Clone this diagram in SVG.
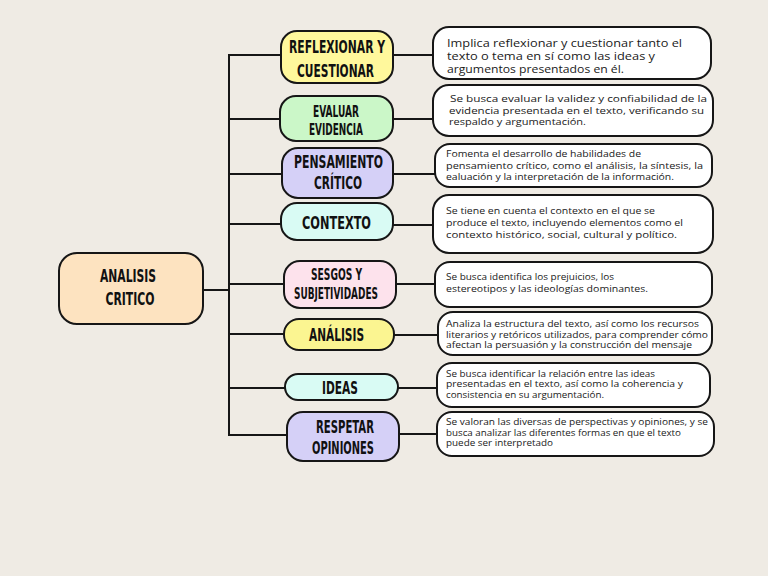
<svg xmlns="http://www.w3.org/2000/svg" width="768" height="576" viewBox="0 0 768 576">
<style>
.bg{fill:#efebe4}
.node{stroke:#161616;stroke-width:2}
.box{fill:#ffffff;stroke:#161616;stroke-width:2}
.lbl{font-family:"DejaVu Sans Condensed","DejaVu Sans",sans-serif;font-weight:bold;fill:#111;text-anchor:middle}
.body{font-family:"Open Sans","Noto Sans",sans-serif;fill:#1a1a1a}
.con{stroke:#161616;stroke-width:2;fill:none}
</style>
<rect class="bg" x="0" y="0" width="768" height="576"/>
<g id="connectors">
<path class="con" d="M203 290H229M229 54V436"/>
<path class="con" d="M229 55H281M229 119H280M229 174H282M229 224H281M229 284H284M229 334H284M229 388H285M229 435H287"/>
<path class="con" d="M393 55H433M393 119H433M393 174H435M393 225H433M396 284H435M394 335H438M398 388H437M399 434H437"/>
</g>
<g id="root">
<rect class="node" x="59" y="253" width="144" height="71" rx="18" fill="#fde3c0"/>
<text class="lbl" x="128" y="282" font-size="18" textLength="56" lengthAdjust="spacingAndGlyphs">ANALISIS</text>
<text class="lbl" x="130" y="305" font-size="18" textLength="49" lengthAdjust="spacingAndGlyphs">CRITICO</text>
</g>
<g id="n1">
<rect class="node" x="281" y="31" width="112" height="52" rx="16" fill="#fff89c"/>
<text class="lbl" x="337" y="53" font-size="17" textLength="96" lengthAdjust="spacingAndGlyphs">REFLEXIONAR Y</text>
<text class="lbl" x="335.5" y="77" font-size="17" textLength="77" lengthAdjust="spacingAndGlyphs">CUESTIONAR</text>
</g>
<g id="n2">
<rect class="node" x="280" y="96" width="113" height="45" rx="16" fill="#cbf7c8"/>
<text class="lbl" x="336" y="117" font-size="15" textLength="46" lengthAdjust="spacingAndGlyphs">EVALUAR</text>
<text class="lbl" x="336" y="135" font-size="15" textLength="54" lengthAdjust="spacingAndGlyphs">EVIDENCIA</text>
</g>
<g id="n3">
<rect class="node" x="282" y="148" width="111" height="50" rx="16" fill="#d5d0f7"/>
<text class="lbl" x="338.5" y="168" font-size="18" textLength="89" lengthAdjust="spacingAndGlyphs">PENSAMIENTO</text>
<text class="lbl" x="338" y="189" font-size="18" textLength="48" lengthAdjust="spacingAndGlyphs">CRÍTICO</text>
</g>
<g id="n4">
<rect class="node" x="281" y="203" width="112" height="37" rx="16" fill="#d9fbf4"/>
<text class="lbl" x="336.5" y="229" font-size="18" textLength="69" lengthAdjust="spacingAndGlyphs">CONTEXTO</text>
</g>
<g id="n5">
<rect class="node" x="284" y="261" width="112" height="47" rx="16" fill="#fde2ec"/>
<text class="lbl" x="336.5" y="280" font-size="15" textLength="51" lengthAdjust="spacingAndGlyphs">SESGOS Y</text>
<text class="lbl" x="336" y="299" font-size="15" textLength="84" lengthAdjust="spacingAndGlyphs">SUBJETIVIDADES</text>
</g>
<g id="n6">
<rect class="node" x="284" y="319" width="110" height="31" rx="15" fill="#fbf591"/>
<text class="lbl" x="336.5" y="341" font-size="18" textLength="55" lengthAdjust="spacingAndGlyphs">ANÁLISIS</text>
</g>
<g id="n7">
<rect class="node" x="285" y="374" width="113" height="26" rx="13" fill="#d9fbf4"/>
<text class="lbl" x="340" y="394" font-size="17" textLength="36" lengthAdjust="spacingAndGlyphs">IDEAS</text>
</g>
<g id="n8">
<rect class="node" x="287" y="412" width="112" height="49" rx="16" fill="#d5d0f7"/>
<text class="lbl" x="345" y="433" font-size="18" textLength="58" lengthAdjust="spacingAndGlyphs">RESPETAR</text>
<text class="lbl" x="343" y="454" font-size="18" textLength="62" lengthAdjust="spacingAndGlyphs">OPINIONES</text>
</g>
<g id="d1">
<rect class="box" x="433" y="27" width="278" height="52" rx="16"/>
<text class="body" font-size="10.2"><tspan x="447" y="46.5" textLength="235" lengthAdjust="spacingAndGlyphs">Implica reflexionar y cuestionar tanto el</tspan><tspan x="447" y="59.5" textLength="208" lengthAdjust="spacingAndGlyphs">texto o tema en sí como las ideas y</tspan><tspan x="447" y="72.5" textLength="177" lengthAdjust="spacingAndGlyphs">argumentos presentados en él.</tspan></text>
</g>
<g id="d2">
<rect class="box" x="433" y="85" width="280" height="51" rx="16"/>
<text class="body" font-size="8.8"><tspan x="450" y="102" textLength="257" lengthAdjust="spacingAndGlyphs">Se busca evaluar la validez y confiabilidad de la</tspan><tspan x="449" y="113.5" textLength="255" lengthAdjust="spacingAndGlyphs">evidencia presentada en el texto, verificando su</tspan><tspan x="449" y="125" textLength="137" lengthAdjust="spacingAndGlyphs">respaldo y argumentación.</tspan></text>
</g>
<g id="d3">
<rect class="box" x="435" y="144" width="277" height="43" rx="15"/>
<text class="body" font-size="8.6"><tspan x="446" y="157" textLength="195" lengthAdjust="spacingAndGlyphs">Fomenta el desarrollo de habilidades de</tspan><tspan x="446" y="168.5" textLength="257" lengthAdjust="spacingAndGlyphs">pensamiento crítico, como el análisis, la síntesis, la</tspan><tspan x="446" y="180" textLength="228" lengthAdjust="spacingAndGlyphs">ealuación y la interpretación de la información.</tspan></text>
</g>
<g id="d4">
<rect class="box" x="433" y="195" width="280" height="58" rx="16"/>
<text class="body" font-size="9.5"><tspan x="446" y="214" textLength="209" lengthAdjust="spacingAndGlyphs">Se tiene en cuenta el contexto en el que se</tspan><tspan x="446" y="226" textLength="237" lengthAdjust="spacingAndGlyphs">produce el texto, incluyendo elementos como el</tspan><tspan x="446" y="238" textLength="231" lengthAdjust="spacingAndGlyphs">contexto histórico, social, cultural y político.</tspan></text>
</g>
<g id="d5">
<rect class="box" x="435" y="262" width="277" height="45" rx="15"/>
<text class="body" font-size="9.5"><tspan x="446" y="280" textLength="168" lengthAdjust="spacingAndGlyphs">Se busca identifica los prejuicios, los</tspan><tspan x="446" y="292" textLength="202" lengthAdjust="spacingAndGlyphs">estereotipos y las ideologías dominantes.</tspan></text>
</g>
<g id="d6">
<rect class="box" x="438" y="312" width="274" height="43" rx="15"/>
<text class="body" font-size="8.3"><tspan x="446" y="327" textLength="253" lengthAdjust="spacingAndGlyphs">Analiza la estructura del texto, así como los recursos</tspan><tspan x="446" y="338" textLength="262" lengthAdjust="spacingAndGlyphs">literarios y retóricos utilizados, para comprender cómo</tspan><tspan x="446" y="348" textLength="246" lengthAdjust="spacingAndGlyphs">afectan la persuasión y la construcción del mensaje</tspan></text>
</g>
<g id="d7">
<rect class="box" x="437" y="363" width="273" height="44" rx="15"/>
<text class="body" font-size="8.3"><tspan x="446" y="377" textLength="209" lengthAdjust="spacingAndGlyphs">Se busca identificar la relación entre las ideas</tspan><tspan x="446" y="387" textLength="237" lengthAdjust="spacingAndGlyphs">presentadas en el texto, así como la coherencia y</tspan><tspan x="446" y="398" textLength="158" lengthAdjust="spacingAndGlyphs">consistencia en su argumentación.</tspan></text>
</g>
<g id="d8">
<rect class="box" x="437" y="412" width="277" height="44" rx="15"/>
<text class="body" font-size="8.3"><tspan x="446" y="425" textLength="262" lengthAdjust="spacingAndGlyphs">Se valoran las diversas de perspectivas y opiniones, y se</tspan><tspan x="446" y="436" textLength="235" lengthAdjust="spacingAndGlyphs">busca analizar las diferentes formas en que el texto</tspan><tspan x="446" y="446" textLength="107" lengthAdjust="spacingAndGlyphs">puede ser interpretado</tspan></text>
</g>
</svg>
